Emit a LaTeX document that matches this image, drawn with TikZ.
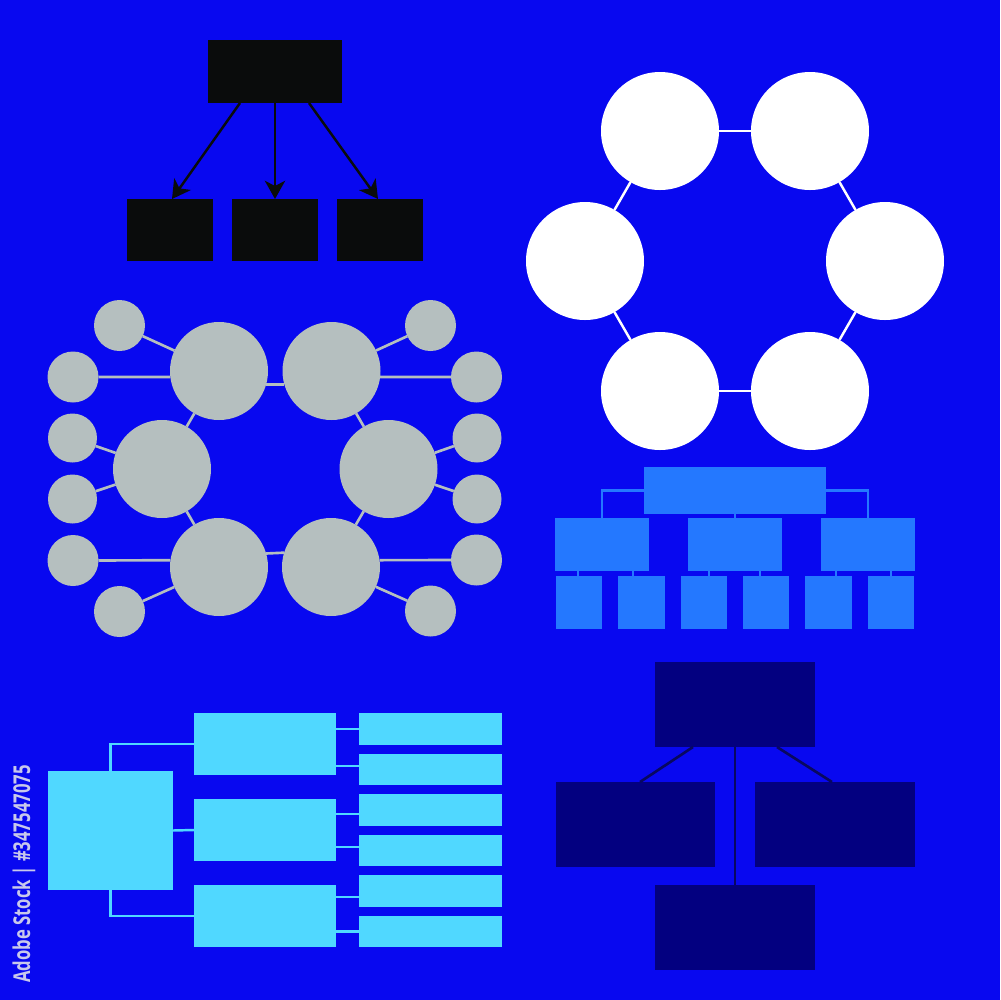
\documentclass[tikz,border=0pt]{standalone}
\usepackage{fontspec}
\newfontfamily\wmfont{Open Sans}
\usetikzlibrary{fit,arrows.meta,calc}
\definecolor{bg}{RGB}{8,8,240}
\definecolor{blk}{RGB}{10,12,12}
\definecolor{gry}{RGB}{181,191,191}
\definecolor{azu}{RGB}{36,120,255}
\definecolor{cya}{RGB}{80,216,255}
\definecolor{nav}{RGB}{3,0,128}
\definecolor{nvl}{RGB}{8,8,96}
\definecolor{wm}{RGB}{200,200,235}
\begin{document}
\begin{tikzpicture}[x=0.1mm,y=-0.1mm,
  box/.style={rectangle,inner sep=0pt,outer sep=0pt,draw=none},
  circ/.style={circle,inner sep=0pt,outer sep=0pt,draw=none},
  blkbox/.style={box,fill=blk},
  azubox/.style={box,fill=azu},
  cyabox/.style={box,fill=cya},
  navbox/.style={box,fill=nav},
  whc/.style={circ,fill=white,minimum size=11.8mm},
  bigg/.style={circ,fill=gry,minimum size=9.8mm},
  smg/.style={circ,fill=gry,minimum size=5.1mm},
  smgs/.style={circ,fill=gry,minimum size=4.9mm},
  arr/.style={draw=blk,line width=0.7pt,-{Stealth[length=5.2pt,width=5.8pt,inset=1.5pt]}},
  wline/.style={draw=white,line width=0.7pt},
  gline/.style={draw=gry,line width=0.75pt},
  aline/.style={draw=azu,line width=0.7pt},
  cline/.style={draw=cya,line width=0.7pt},
  nline/.style={draw=nvl,line width=0.75pt}]
\fill[bg] (0,0) rectangle (1000,1000);
\useasboundingbox (0,0) rectangle (1000,1000);

% ---------- black tree ----------
\node[blkbox,fit={(208,40)(342,103)}] (bt) {};
\node[blkbox,fit={(127,199)(213,261)}] (bb1) {};
\node[blkbox,fit={(232,199)(318,261)}] (bb2) {};
\node[blkbox,fit={(337,199)(423,261)}] (bb3) {};
\draw[arr] ([xshift=-3.5mm]bt.south) -- ([xshift=0.2mm]bb1.north);
\draw[arr] (bt.south) -- (bb2.north);
\draw[arr] ([xshift=3.4mm]bt.south) -- ([xshift=-0.2mm]bb3.north);

% ---------- white hexagon ----------
\node[whc] (w1) at (660,131) {};
\node[whc] (w2) at (810,131) {};
\node[whc] (w3) at (885,261) {};
\node[whc] (w4) at (810,391) {};
\node[whc] (w5) at (660,391) {};
\node[whc] (w6) at (585,261) {};
\draw[wline] (w1) -- (w2);
\draw[wline] (w2) -- (w3);
\draw[wline] (w3) -- (w4);
\draw[wline] (w4) -- (w5);
\draw[wline] (w5) -- (w6);
\draw[wline] (w6) -- (w1);

% ---------- gray network ----------
\node[bigg] (gTL) at (219,371) {};
\node[bigg] (gML) at (162,469) {};
\node[bigg] (gBL) at (219,567) {};
\node[bigg] (gTR) at (331.5,371) {};
\node[bigg] (gMR) at (388.5,469) {};
\node[bigg] (gBR) at (331,567) {};
\node[smg] (sL0) at (119.5,325.5) {};
\node[smg] (sL1) at (73,377) {};
\node[smgs] (sL2) at (72.5,438) {};
\node[smgs] (sL3) at (72.5,499) {};
\node[smg] (sL4) at (73,560.5) {};
\node[smg] (sL5) at (119.5,611.5) {};
\node[smg] (sR0) at (430.5,325.5) {};
\node[smg] (sR1) at (476.5,377) {};
\node[smgs] (sR2) at (477,438) {};
\node[smgs] (sR3) at (477,499) {};
\node[smg] (sR4) at (476.5,560) {};
\node[smg] (sR5) at (430.5,611) {};
\draw[gline] (sL0) -- (gTL);
\draw[gline] (sL1.east) -- (gTL.187);
\draw[gline] (sL2) -- (gML);
\draw[gline] (sL3) -- (gML);
\draw[gline] (sL4.east) -- (gBL.172);
\draw[gline] (sL5) -- (gBL);
\draw[gline] (gTL) -- (gML);
\draw[gline] (gML) -- (gBL);
\draw[gline] (gTL.-16.6) -- (gTR.196.6);
\draw[gline] (gBL.16.6) -- (gBR.163.4);
\draw[gline] (gTR) -- (gMR);
\draw[gline] (gMR) -- (gBR);
\draw[gline] (gTR) -- (sR0);
\draw[gline] (gTR.-7) -- (sR1.west);
\draw[gline] (gMR) -- (sR2);
\draw[gline] (gMR) -- (sR3);
\draw[gline] (gBR.8) -- (sR4.west);
\draw[gline] (gBR) -- (sR5);

% ---------- azure org chart ----------
\node[azubox,fit={(644,467)(826,514)}] (at) {};
\node[azubox,fit={(555,518)(649,571)}] (am1) {};
\node[azubox,fit={(688,518)(782,571)}] (am2) {};
\node[azubox,fit={(821,518)(915,571)}] (am3) {};
\node[azubox,fit={(556,576)(602,629)}] (ab1) {};
\node[azubox,fit={(618,576)(665,629)}] (ab2) {};
\node[azubox,fit={(681,576)(727,629)}] (ab3) {};
\node[azubox,fit={(743,576)(789,629)}] (ab4) {};
\node[azubox,fit={(805,576)(852,629)}] (ab5) {};
\node[azubox,fit={(868,576)(914,629)}] (ab6) {};
\draw[aline] (at.west) -| (am1.north);
\draw[aline] (at.east) -| (am3.north);
\draw[aline] (at.south) -- (am2.north);
\draw[aline] ([xshift=-0.1mm]ab1.north) -- ++(0,-6);
\draw[aline] ([xshift=-0.85mm]ab2.north) -- ++(0,-6);
\draw[aline] ([xshift=0.5mm]ab3.north) -- ++(0,-6);
\draw[aline] ([xshift=-0.6mm]ab4.north) -- ++(0,-6);
\draw[aline] ([xshift=0.75mm]ab5.north) -- ++(0,-6);
\draw[aline] (ab6.north) -- ++(0,-6);

% ---------- cyan tree ----------
\node[cyabox,fit={(48,771)(173,890)}] (cb) {};
\node[cyabox,fit={(194,713)(336,775)}] (cm1) {};
\node[cyabox,fit={(194,799)(336,861)}] (cm2) {};
\node[cyabox,fit={(194,885)(336,947)}] (cm3) {};
\node[cyabox,fit={(359,713)(502,745)}] (cr1) {};
\node[cyabox,fit={(359,754)(502,785)}] (cr2) {};
\node[cyabox,fit={(359,794)(502,826)}] (cr3) {};
\node[cyabox,fit={(359,835)(502,866)}] (cr4) {};
\node[cyabox,fit={(359,875)(502,907)}] (cr5) {};
\node[cyabox,fit={(359,916)(502,947)}] (cr6) {};
\draw[cline] (cb.north) |- (cm1.west);
\draw[cline] (cb.east) -- (cm2.west);
\draw[cline] (cb.south) |- (cm3.west);
\draw[cline] (cr1.west) -- ++(-23,0);
\draw[cline] ([yshift=0.35mm]cr2.west) -- ++(-23,0);
\draw[cline] ([yshift=-0.4mm]cr3.west) -- ++(-23,0);
\draw[cline] ([yshift=0.35mm]cr4.west) -- ++(-23,0);
\draw[cline] ([yshift=-0.6mm]cr5.west) -- ++(-23,0);
\draw[cline] (cr6.west) -- ++(-23,0);

% ---------- navy tree ----------
\node[navbox,fit={(655,662)(815,747)}] (nt) {};
\node[navbox,fit={(556,782)(715,867)}] (nl) {};
\node[navbox,fit={(755,782)(915,867)}] (nr) {};
\node[navbox,fit={(655,885)(815,970)}] (nb) {};
\draw[nline] ([xshift=-4.2mm]nt.south) -- ([xshift=0.45mm]nl.north);
\draw[nline] ([xshift=4.2mm]nt.south) -- ([xshift=-0.3mm]nr.north);
\draw[nline] (nt.south) -- (nb.north);

% ---------- side label ----------
\node[text=wm,rotate=90,xscale=0.72,inner sep=0pt,font=\wmfont\bfseries\fontsize{6.6pt}{7pt}\selectfont] (lbl) at (24,874) {Adobe Stock | \#347547075};
\end{tikzpicture}
\end{document}
